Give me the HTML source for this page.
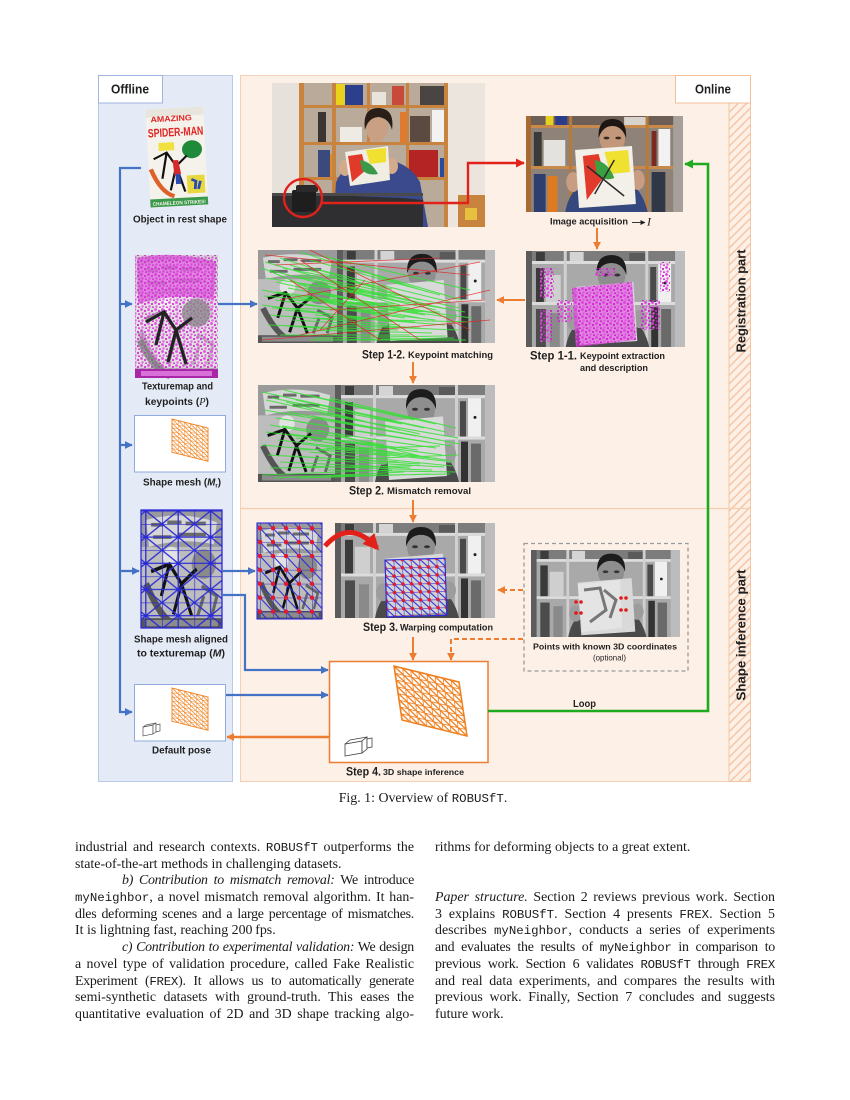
<!DOCTYPE html>
<html><head><meta charset="utf-8"><title>Overview of ROBUSfT</title>
<style>
html,body{margin:0;padding:0;background:#fff}
#pg{position:relative;width:850px;height:1100px;overflow:hidden;background:#fff}
#pg svg{position:absolute;left:0;top:0}
.col{position:absolute;width:339px;font-family:"Liberation Serif","Times New Roman",serif;font-size:13.9px;line-height:16.7px;color:#1a1a1a}
.col div{height:16.7px;text-align:justify;text-align-last:justify;word-spacing:-3px;overflow:visible}
.col div.l{text-align:left;text-align-last:left;word-spacing:0}
.col div.t{letter-spacing:-0.25px;word-spacing:-3px}
.m{font-family:"Liberation Mono",monospace;font-size:12.4px}
.ind{padding-left:47px}
.cap{position:absolute;left:0;top:790px;width:846px;text-align:center;font-family:"Liberation Serif",serif;font-size:13.9px;color:#1a1a1a;line-height:17px}
</style></head><body><div id="pg">
<svg width="850" height="1100" viewBox="0 0 850 1100" xmlns="http://www.w3.org/2000/svg" font-family="'Liberation Sans', sans-serif" font-weight="bold">
<defs>
<marker id="ab" viewBox="0 0 10 10" refX="9" refY="5" markerWidth="8" markerHeight="8" markerUnits="userSpaceOnUse" orient="auto"><path d="M0,0L10,5L0,10z" fill="#4472c4"/></marker>
<marker id="ao" viewBox="0 0 10 10" refX="9" refY="5" markerWidth="8" markerHeight="8" markerUnits="userSpaceOnUse" orient="auto"><path d="M0,0L10,5L0,10z" fill="#ed7d31"/></marker>
<marker id="ag" viewBox="0 0 10 10" refX="9" refY="5" markerWidth="9" markerHeight="9" markerUnits="userSpaceOnUse" orient="auto"><path d="M0,0L10,5L0,10z" fill="#1faa1f"/></marker>
<marker id="ar" viewBox="0 0 10 10" refX="9" refY="5" markerWidth="9" markerHeight="9" markerUnits="userSpaceOnUse" orient="auto"><path d="M0,0L10,5L0,10z" fill="#e3211b"/></marker>
<marker id="ar2" viewBox="0 0 10 10" refX="8" refY="5" markerWidth="16" markerHeight="16" markerUnits="userSpaceOnUse" orient="auto"><path d="M0,0L10,5L0,10z" fill="#e3211b"/></marker>
<marker id="ak" viewBox="0 0 10 10" refX="9" refY="5" markerWidth="5" markerHeight="5" markerUnits="userSpaceOnUse" orient="auto"><path d="M0,0L10,5L0,10z" fill="#222"/></marker>
<pattern id="hatch" width="6" height="6" patternUnits="userSpaceOnUse" patternTransform="rotate(45)"><rect width="6" height="6" fill="#fdf0e7"/><line x1="1" y1="0" x2="1" y2="6" stroke="#f3c3a0" stroke-width="1.4"/></pattern>
<pattern id="om" width="6" height="4.15" patternUnits="userSpaceOnUse"><path d="M0 0H6M0 0V4.15M0 0L6 4.15" stroke="#f08a2c" stroke-width="0.9" fill="none"/></pattern>
<pattern id="om2" width="8.1" height="6.75" patternUnits="userSpaceOnUse"><path d="M0 0H8.1M0 0V6.75M0 0L8.1 6.75" stroke="#f07f1e" stroke-width="1.6" fill="none"/></pattern>
<pattern id="bm" width="32.4" height="26.2" patternUnits="userSpaceOnUse"><path d="M0 0H32.4M0 13.1H32.4M0 0V26.2M16.2 0V26.2M0 0L16.2 13.1L32.4 0M0 26.2L16.2 13.1L32.4 26.2" stroke="#2b2bd6" stroke-width="1.3" fill="none"/></pattern>
<pattern id="bm2" width="13" height="13.9" patternUnits="userSpaceOnUse"><path d="M0 0H13M0 0V13.9M0 0L13 13.9" stroke="#2b2bd6" stroke-width="1.1" fill="none"/><circle cx="0" cy="0" r="2.2" fill="#e01a30"/><circle cx="13" cy="0" r="2.2" fill="#e01a30"/><circle cx="0" cy="13.9" r="2.2" fill="#e01a30"/><circle cx="13" cy="13.9" r="2.2" fill="#e01a30"/></pattern>
<pattern id="bm3" width="8.6" height="8.2" patternUnits="userSpaceOnUse"><path d="M0 0H8.6M0 0V8.2M0 0L8.6 8.2" stroke="#2b2be0" stroke-width="1.1" fill="none"/><circle cx="0" cy="0" r="1.8" fill="#e01a30"/><circle cx="8.6" cy="0" r="1.8" fill="#e01a30"/><circle cx="0" cy="8.2" r="1.8" fill="#e01a30"/><circle cx="8.6" cy="8.2" r="1.8" fill="#e01a30"/></pattern>
<pattern id="mgp" width="7" height="7" patternUnits="userSpaceOnUse"><circle cx="1.5" cy="1.5" r="1.4" fill="#e23ce2"/><circle cx="5" cy="3" r="1.1" fill="#d020d0"/><circle cx="2.5" cy="5.5" r="1.2" fill="#e850e8"/><circle cx="6" cy="6.2" r="0.9" fill="#c818c8"/></pattern>

<symbol id="gs" viewBox="0 0 160 96" preserveAspectRatio="none">
<rect width="160" height="96" fill="#a9a9a9"/>
<rect x="0" y="0" width="160" height="10" fill="#7c7c7c"/>
<rect x="10" y="1" width="9" height="9" fill="#3c3c3c"/>
<rect x="44" y="1" width="14" height="9" fill="#d4d4d4"/>
<rect x="104" y="2" width="18" height="8" fill="#5a5a5a"/>
<rect x="0" y="10" width="160" height="3" fill="#dcdcdc"/>
<rect x="0" y="51" width="160" height="3" fill="#dcdcdc"/>
<rect x="0" y="0" width="6" height="96" fill="#5c5c5c"/>
<rect x="38" y="0" width="3" height="96" fill="#d0d0d0"/>
<rect x="120" y="0" width="3" height="96" fill="#d0d0d0"/>
<rect x="150" y="0" width="10" height="96" fill="#bcbcbc"/>
<rect x="10" y="17" width="8" height="34" fill="#3a3a3a"/>
<rect x="20" y="24" width="15" height="27" fill="#cfcfcf"/>
<rect x="125" y="16" width="6" height="35" fill="#4a4a4a"/>
<rect x="133" y="13" width="13" height="38" fill="#f0f0f0"/>
<circle cx="140" cy="32" r="1.5" fill="#222"/>
<rect x="10" y="58" width="10" height="38" fill="#4c4c4c"/>
<rect x="24" y="62" width="10" height="34" fill="#8a8a8a"/>
<rect x="126" y="56" width="7" height="40" fill="#333"/>
<rect x="136" y="58" width="10" height="38" fill="#6a6a6a"/>
<path d="M40 96 Q46 62 84 60 Q116 62 124 96Z" fill="#4a4a4a"/>
<ellipse cx="86" cy="24" rx="14" ry="17" fill="#8e8e8e"/>
<path d="M71 24 Q70 4 86 4 Q102 4 101 24 Q97 12 86 12 Q75 12 71 24Z" fill="#1c1c1c"/>
<ellipse cx="80" cy="24" rx="3" ry="1.5" fill="#333"/>
<ellipse cx="92" cy="24" rx="3" ry="1.5" fill="#333"/>
<ellipse cx="48" cy="70" rx="7" ry="9" fill="#9c9c9c"/>
<ellipse cx="114" cy="68" rx="7" ry="9" fill="#9c9c9c"/>
<path d="M50 36 L108 31 L112 90 L54 94Z" fill="#d9d9d9"/>
</symbol>

<symbol id="gc" viewBox="0 0 80 96" preserveAspectRatio="none">
<rect width="80" height="96" fill="#bdbdbd"/>
<path d="M0 0H80V30H0Z" fill="#9a9a9a"/>
<path d="M5 8 Q40 0 75 10 L72 28 Q40 22 8 30Z" fill="#d6d6d6"/>
<path d="M10 12h12M26 10h14M44 11h20M12 22h18M36 20h28" stroke="#6a6a6a" stroke-width="3"/>
<circle cx="62" cy="44" r="12" fill="#8a8a8a"/>
<circle cx="30" cy="38" r="8" fill="#e2e2e2"/>
<path d="M10 50 L28 44 L40 60 L55 48 M40 60 L32 85 M40 60 L50 86 M28 44 L20 70" stroke="#111" stroke-width="3" fill="none"/>
<path d="M5 60 Q20 90 35 94" stroke="#555" stroke-width="6" fill="none"/>
<path d="M60 62 L75 70 L70 86 M62 70 L56 86" stroke="#666" stroke-width="3" fill="none"/>
<rect x="0" y="88" width="80" height="8" fill="#555"/>
<rect x="4" y="89.5" width="72" height="5" fill="#8c8c8c"/>
</symbol>

<symbol id="cs" viewBox="0 0 160 96" preserveAspectRatio="none">
<rect width="160" height="96" fill="#8f8379"/>
<rect x="0" y="0" width="160" height="10" fill="#6d5f55"/>
<rect x="20" y="0" width="8" height="9" fill="#e8d020"/>
<rect x="30" y="0" width="12" height="9" fill="#2a3c8a"/>
<rect x="100" y="1" width="22" height="8" fill="#d8d4cc"/>
<rect x="0" y="9" width="160" height="3" fill="#c88a4a"/>
<rect x="0" y="50" width="160" height="3" fill="#c88a4a"/>
<rect x="0" y="0" width="5" height="96" fill="#a86a30"/>
<rect x="44" y="0" width="3" height="96" fill="#b87a3a"/>
<rect x="122" y="0" width="3" height="96" fill="#b87a3a"/>
<rect x="150" y="0" width="10" height="96" fill="#a7a09a"/>
<rect x="8" y="16" width="8" height="34" fill="#3a3a3a"/>
<rect x="18" y="24" width="22" height="26" fill="#e4e2de"/>
<rect x="128" y="15" width="5" height="35" fill="#7a2a20"/>
<rect x="135" y="13" width="12" height="37" fill="#f2f2f2"/>
<rect x="8" y="58" width="12" height="38" fill="#2e3e6e"/>
<rect x="22" y="60" width="10" height="36" fill="#e07a20"/>
<rect x="128" y="56" width="14" height="40" fill="#303848"/>
<path d="M40 96 Q46 62 84 60 Q116 62 124 96Z" fill="#34487e"/>
<ellipse cx="88" cy="22" rx="13" ry="16" fill="#c2977a"/>
<path d="M74 22 Q73 3 88 3 Q103 3 102 22 Q98 10 88 10 Q78 10 74 22Z" fill="#1e1612"/>
<ellipse cx="82" cy="22" rx="3" ry="1.4" fill="#3a2a20"/>
<ellipse cx="94" cy="22" rx="3" ry="1.4" fill="#3a2a20"/>
<ellipse cx="48" cy="66" rx="7" ry="10" fill="#c99d82"/>
<ellipse cx="114" cy="64" rx="7" ry="10" fill="#c99d82"/>
<path d="M50 34 L108 30 L112 88 L54 92Z" fill="#f2f0e8"/>
<path d="M58 40 L74 38 L80 60 L62 84Z" fill="#e23a2a"/>
<path d="M80 36 L104 34 L106 56 L86 58Z" fill="#f0e030"/>
<path d="M70 44 Q84 46 90 62 Q80 66 72 58Z" fill="#3aa040"/>
<path d="M62 50 L100 80 M90 44 L70 78" stroke="#2a2a2a" stroke-width="1.5"/>
</symbol>
</defs>

<!-- panels -->
<rect x="98.5" y="75.5" width="134" height="706" fill="#e5ebf6" stroke="#b9c9e6"/>
<rect x="240.5" y="75.5" width="510" height="706" fill="#fdf0e7" stroke="#f5cfb4"/>
<rect x="729" y="103" width="21.5" height="678.5" fill="url(#hatch)" stroke="#f3c7a6"/>
<line x1="241" y1="508.5" x2="750" y2="508.5" stroke="#f5cdb0" stroke-width="1.2"/>
<rect x="98.5" y="75.5" width="64" height="27.5" fill="#fff" stroke="#9fb6e0"/>
<rect x="675.5" y="75.5" width="75" height="27.5" fill="#fff" stroke="#f2bf98"/>

<!-- color comic (rest shape) -->
<g transform="rotate(-3 177 157) translate(148 0) scale(1.11 1) translate(-148 0)">
<rect x="148" y="108" width="52" height="98" fill="#f4f2ea"/>
<rect x="148" y="108" width="52" height="8" fill="#e8e6dc"/>
<text x="152" y="121" font-size="8" fill="#e32222" font-family="'Liberation Sans', sans-serif">AMAZING</text>
<text x="149" y="136" font-size="12" fill="#e32222" textLength="50" lengthAdjust="spacingAndGlyphs">SPIDER-MAN</text>
<circle cx="188" cy="150" r="9" fill="#1f8a3a"/>
<rect x="158" y="142" width="14" height="8" fill="#f0e040"/>
<path d="M153 158 L165 152 L173 166 L183 156 M173 166 L167 190 M173 166 L180 192 M165 152 L160 178" stroke="#111" stroke-width="2" fill="none"/>
<path d="M170 160 l5 0 l2 14 l-6 2 z" fill="#d42a2a"/>
<path d="M172 174 l4 0 l1 10 l-5 0 z" fill="#2a4ab0"/>
<path d="M150 168 Q158 192 170 196" stroke="#e0602a" stroke-width="4" fill="none"/>
<rect x="182" y="176" width="16" height="18" fill="#e8d840"/>
<path d="M186 180 l4 2 l-1 8 M194 182 l-2 8" stroke="#2a4ab0" stroke-width="2.5" fill="none"/>
<rect x="148" y="198" width="52" height="8" fill="#3a9a4a"/>
<text x="150" y="204.5" font-size="5" fill="#f4f2ea" textLength="48" lengthAdjust="spacingAndGlyphs">CHAMELEON STRIKES!</text>
</g>

<!-- texturemap magenta -->
<rect x="135" y="255" width="83" height="123" fill="#ffffff"/>
<use href="#gc" x="135" y="255" width="83" height="123" opacity="0.45"/>
<rect x="135" y="255" width="83" height="123" fill="url(#mgp)" opacity="0.9"/>
<path d="M137 258 Q175 250 216 262 L214 300 Q175 292 138 304Z" fill="#d630d6" opacity="0.55"/>
<circle cx="196" cy="313" r="14" fill="#8a8a8a" opacity="0.75"/>
<path d="M146 322 L164 312 L176 330 L192 318 M176 330 L168 362 M176 330 L186 364 M164 312 L156 345" stroke="#222" stroke-width="3.2" fill="none"/>
<path d="M140 340 Q152 368 170 376" stroke="#777" stroke-width="7" fill="none" opacity="0.7"/>
<rect x="135" y="369" width="83" height="9" fill="#a826a8"/>
<rect x="141" y="371" width="71" height="5" fill="#d870d8"/>

<!-- shape mesh Mr -->
<rect x="134.5" y="415.5" width="91" height="56.5" fill="#fff" stroke="#8faadc"/>
<g transform="matrix(1,0.25,0,1,172,419)"><rect width="36" height="33.2" fill="url(#om)" stroke="#f08a2c" stroke-width="1"/></g>

<!-- shape mesh aligned -->
<use href="#gc" x="141" y="510" width="81" height="118"/>
<rect x="141" y="510" width="81" height="118" fill="url(#bm)" stroke="#2b2bd6" stroke-width="1.3"/>

<!-- default pose -->
<rect x="134.5" y="684.5" width="91" height="56.5" fill="#fff" stroke="#8faadc"/>
<g transform="matrix(1,0.25,0,1,172,688)"><rect width="36" height="33.2" fill="url(#om)" stroke="#f08a2c" stroke-width="1"/></g>
<g fill="#fff" stroke="#555" stroke-width="0.7"><path d="M143 727 l10 -2 l0 9 l-10 2 z"/><path d="M143 727 l3 -2 l10 -2 l-3 2 z"/><path d="M153 725 l3 -2 l0 9 l-3 2 z"/><path d="M156 725 l4 -1 l0 7 l-4 1z"/></g>

<!-- top photo -->
<rect x="272" y="83" width="213" height="144" fill="#e6e1db"/>
<rect x="299" y="83" width="148" height="144" fill="#b9aa9a"/>
<rect x="336" y="84" width="9" height="21" fill="#e8d21e"/>
<rect x="345" y="85" width="18" height="20" fill="#2c3f8c"/>
<rect x="372" y="92" width="14" height="13" fill="#e8e4dc"/>
<rect x="392" y="86" width="12" height="19" fill="#c84a3a"/>
<rect x="420" y="86" width="24" height="19" fill="#4a4442"/>
<rect x="318" y="112" width="8" height="30" fill="#3a3432"/>
<rect x="340" y="127" width="22" height="15" fill="#eeeae4"/>
<rect x="400" y="112" width="6" height="30" fill="#e07a30"/>
<rect x="410" y="116" width="20" height="26" fill="#5a4a42"/>
<rect x="432" y="110" width="12" height="33" fill="#f2f2f2"/>
<rect x="318" y="150" width="12" height="27" fill="#3a4a7c"/>
<rect x="330" y="154" width="6" height="23" fill="#e08a30"/>
<rect x="408" y="150" width="30" height="27" fill="#b42424"/>
<rect x="440" y="158" width="5" height="19" fill="#2a4aa0"/>
<g fill="#c8843f"><rect x="299" y="83" width="5" height="144"/><rect x="332" y="83" width="4" height="144"/><rect x="367" y="83" width="3" height="60"/><rect x="406" y="83" width="3" height="144"/><rect x="444" y="83" width="4" height="144"/><rect x="299" y="105" width="149" height="3"/><rect x="299" y="142" width="149" height="3"/><rect x="299" y="177" width="149" height="3"/></g>
<rect x="448" y="83" width="37" height="144" fill="#ebe5de"/>
<rect x="458" y="195" width="27" height="32" fill="#c8843f"/>
<rect x="465" y="208" width="12" height="12" fill="#e8c040"/>
<path d="M333 227 L336 182 Q346 160 377 158 Q408 160 420 182 L428 227Z" fill="#3b4a8c"/>
<ellipse cx="377" cy="128" rx="11" ry="14" fill="#caa084"/>
<path d="M365 130 Q362 108 378 108 Q395 108 392 130 Q389 118 378 117 Q368 118 365 130Z" fill="#2a1e18"/>
<ellipse cx="345" cy="168" rx="6" ry="8" fill="#d3aa8c"/>
<ellipse cx="392" cy="166" rx="6" ry="8" fill="#d3aa8c"/>
<path d="M345 152 L388 146 L390 180 L350 186Z" fill="#f0eee2"/>
<path d="M348 156 L362 154 L366 170 L352 182Z" fill="#e23a2a"/>
<path d="M366 150 L386 148 L386 162 L370 164Z" fill="#f0e030"/>
<path d="M360 160 Q372 162 378 174 Q368 176 362 170Z" fill="#3a9a4a"/>
<path d="M272 193 L404 198 L423 200 L423 227 L272 227Z" fill="#2f2f31"/>
<rect x="272" y="193" width="151" height="3" fill="#4a4a4c"/>
<rect x="292" y="190" width="24" height="22" rx="2" fill="#1e1e1e"/>
<rect x="296" y="185" width="22" height="7" rx="2" fill="#2a2a2a"/>
<circle cx="303" cy="198" r="19" fill="none" stroke="#e3211b" stroke-width="2.4"/>

<!-- image acquisition photo -->
<use href="#cs" x="526" y="116" width="157" height="96"/>

<!-- step 1-1 -->
<use href="#gs" x="526" y="251" width="159" height="96"/>
<path d="M572 288 L632 282 L636 340 L576 347Z" fill="#e040e0" opacity="0.55"/>
<path d="M572 288 L632 282 L636 340 L576 347Z" fill="url(#mgp)"/>
<rect x="540" y="268" width="14" height="30" fill="url(#mgp)"/>
<rect x="660" y="262" width="10" height="30" fill="url(#mgp)"/>
<rect x="540" y="310" width="12" height="32" fill="url(#mgp)"/>
<rect x="595" y="268" width="20" height="8" fill="url(#mgp)"/>
<rect x="556" y="300" width="16" height="22" fill="url(#mgp)"/>
<rect x="640" y="300" width="20" height="30" fill="url(#mgp)"/>

<!-- step 1-2 -->
<use href="#gc" x="258" y="250" width="79" height="93"/>
<use href="#gs" x="337" y="250" width="158" height="93"/>
<g stroke="#34e034" stroke-width="1" opacity="0.85" fill="none"><path d="M265 262L395 300M270 270L400 305M280 258L410 298M290 265L420 300M300 275L430 305M310 260L440 295M320 270L450 302M330 280L460 308M262 290L390 315M275 300L405 318M285 310L415 322M295 295L425 315M305 305L435 320M315 315L445 325M325 300L455 318M268 325L398 330M280 335L410 335M292 320L420 328M304 330L432 333M316 338L446 336M328 325L458 330M335 290L465 312M262 305L392 322M276 282L402 310M288 288L418 312M300 252L428 292M312 292L442 314M324 340L454 338M332 262L462 300M270 315L400 325M266 278L385 296M283 268L392 289M298 284L402 296M318 284L436 310M308 318L470 322M276 292L472 318M262 268L382 318M322 256L470 290M286 326L380 332M310 340L466 340M264 296L410 308M272 308L440 312M294 276L452 310M306 298L420 318M288 300L396 304"/></g>
<path d="M265 255L470 275M300 260L420 340M280 300L480 262M320 330L365 280M262 340L490 320M310 250L470 330M290 280L380 340M330 310L485 300M275 265L440 258M300 335L490 290" stroke="#e02020" stroke-width="0.8" opacity="0.8" fill="none"/>

<!-- step 2 -->
<use href="#gc" x="258" y="385" width="77" height="97"/>
<use href="#gs" x="335" y="385" width="160" height="97"/>
<path d="M262 392L392 420M272 398L402 424M284 390L414 420M296 400L424 428M308 395L436 424M320 405L446 432M330 398L456 428M264 410L394 432M276 418L404 438M288 412L416 436M300 422L428 442M312 416L440 440M324 426L452 446M334 420L460 444M266 432L396 448M278 440L406 454M290 434L418 450M302 444L430 458M314 438L442 455M326 448L454 462M268 455L398 462M280 462L410 468M292 456L420 464M304 466L432 470M316 460L444 467M328 470L456 472M262 475L392 470M274 478L404 472M300 478L430 474M322 476L450 474M270 425L385 445M286 402L400 430M300 450L440 446M318 430L420 456M262 445L390 456M330 460L458 455M266 400L420 434M282 426L436 448M296 438L446 460M310 452L452 466M320 414L458 438M270 468L412 466" stroke="#34e034" stroke-width="1.1" opacity="0.85" fill="none"/>

<!-- step 3 -->
<use href="#gc" x="257" y="523" width="65" height="96"/>
<rect x="257" y="523" width="65" height="96" fill="url(#bm2)" stroke="#2b2bd6" stroke-width="1.1"/>
<use href="#gs" x="335" y="523" width="160" height="95"/>
<g transform="matrix(1,-0.03,0.03,1,385,560)"><rect width="60" height="57" fill="#cfcfcf" opacity="0.6"/><rect width="60" height="57" fill="url(#bm3)" stroke="#2b2be0" stroke-width="1.1"/></g>
<path d="M325 546 Q350 518 377 548" stroke="#e3211b" stroke-width="5" fill="none" marker-end="url(#ar2)"/>

<!-- points with known 3D coordinates -->
<rect x="524" y="543.5" width="164" height="127.5" fill="none" stroke="#9a9a9a" stroke-width="1.3" stroke-dasharray="4,3"/>
<use href="#gs" x="531" y="550" width="149" height="87"/>
<path d="M578 584 L620 580 L622 628 L582 632Z" fill="#e4e4e4"/>
<path d="M584 590 L600 588 L606 610 L590 622 M604 590 L616 600 L610 618" stroke="#777" stroke-width="3" fill="none"/>
<g fill="#e01a1a"><circle cx="576" cy="602" r="1.8"/><circle cx="581" cy="602" r="1.8"/><circle cx="576" cy="613" r="1.8"/><circle cx="581" cy="613" r="1.8"/><circle cx="621" cy="598" r="1.8"/><circle cx="626" cy="598" r="1.8"/><circle cx="621" cy="610" r="1.8"/><circle cx="626" cy="610" r="1.8"/></g>

<!-- step 4 box -->
<rect x="329.5" y="661.5" width="158.5" height="101" fill="#fff" stroke="#ed7d31" stroke-width="1.5"/>
<g transform="matrix(1,0.246,0.148,1,394,666)"><rect width="65" height="54" fill="url(#om2)" stroke="#f07f1e" stroke-width="1.6"/></g>
<g fill="#fff" stroke="#444" stroke-width="0.8"><path d="M345 744 l17 -3 l0 12 l-17 3 z"/><path d="M345 744 l5 -4 l17 -3 l-5 4 z"/><path d="M362 741 l5 -4 l0 12 l-5 4 z"/><path d="M367 739 l5 -1 l0 9 l-5 1z"/></g>

<!-- blue connectors -->
<g stroke="#4472c4" stroke-width="2.2" fill="none">
<path d="M141 168 H120 V712 H132" marker-end="url(#ab)"/>
<path d="M120 304 H132" marker-end="url(#ab)"/>
<path d="M120 445 H132" marker-end="url(#ab)"/>
<path d="M120 571 H139" marker-end="url(#ab)"/>
<path d="M218 304 H257" marker-end="url(#ab)"/>
<path d="M222 571 H255" marker-end="url(#ab)"/>
<path d="M222 595 H245 V670 H328" marker-end="url(#ab)"/>
<path d="M226 695 H328" marker-end="url(#ab)"/>
</g>
<!-- orange connectors -->
<g stroke="#ed7d31" stroke-width="2" fill="none">
<path d="M597 228 V249" marker-end="url(#ao)"/>
<path d="M525 300 H497" marker-end="url(#ao)"/>
<path d="M413 362 V383" marker-end="url(#ao)"/>
<path d="M413 500 V522" marker-end="url(#ao)"/>
<path d="M413 637 V660" marker-end="url(#ao)"/>
<path d="M329 737 H227" stroke-width="2.4" marker-end="url(#ao)"/>
<path d="M523 590 H498" stroke-dasharray="5,3" marker-end="url(#ao)"/>
<path d="M523 639 H451 V660" stroke-dasharray="5,3" marker-end="url(#ao)"/>
</g>
<!-- green loop -->
<path d="M488 711 H708 V164 H685" stroke="#1faa1f" stroke-width="2.6" fill="none" marker-end="url(#ag)"/>
<!-- red connector -->
<path d="M322 203 H468 V163 H524" stroke="#e3211b" stroke-width="2.4" fill="none" marker-end="url(#ar)"/>

<!-- labels -->
<g fill="#1f1f1f" text-anchor="middle">
<text x="130" y="93.5" font-size="12.5" textLength="38" lengthAdjust="spacingAndGlyphs">Offline</text>
<text x="713" y="93.5" font-size="12.5" textLength="36" lengthAdjust="spacingAndGlyphs">Online</text>
<text x="180" y="222.5" font-size="10" textLength="94" lengthAdjust="spacingAndGlyphs">Object in rest shape</text>
<text x="177.5" y="389.5" font-size="10" textLength="71" lengthAdjust="spacingAndGlyphs">Texturemap and</text>
<text x="177" y="405" font-size="10" textLength="64" lengthAdjust="spacingAndGlyphs">keypoints (<tspan font-family="'Liberation Serif', serif" font-style="italic" font-weight="normal">P</tspan>)</text>
<text x="182" y="485.5" font-size="10" textLength="78" lengthAdjust="spacingAndGlyphs">Shape mesh (<tspan font-style="italic">M</tspan><tspan font-size="6" dy="2">r</tspan><tspan dy="-2">)</tspan></text>
<text x="181" y="642.5" font-size="10" textLength="94" lengthAdjust="spacingAndGlyphs">Shape mesh aligned</text>
<text x="181" y="656.5" font-size="10" textLength="88" lengthAdjust="spacingAndGlyphs">to texturemap (<tspan font-style="italic">M</tspan>)</text>
<text x="181.5" y="753.5" font-size="10" textLength="59" lengthAdjust="spacingAndGlyphs">Default pose</text>
</g>
<g fill="#1f1f1f">
<text x="550" y="224.5" font-size="9" textLength="78" lengthAdjust="spacingAndGlyphs">Image acquisition</text>
<path d="M632 222.5 H645" stroke="#222" stroke-width="0.9" marker-end="url(#ak)"/>
<text x="647" y="225.5" font-size="12" font-family="'Liberation Serif', serif" font-style="italic" font-weight="normal">I</text>
<text x="530" y="359.5" font-size="11.5" textLength="47" lengthAdjust="spacingAndGlyphs">Step 1-1.</text>
<text x="580" y="359" font-size="9" textLength="85" lengthAdjust="spacingAndGlyphs">Keypoint extraction</text>
<text x="580" y="371" font-size="9" textLength="68" lengthAdjust="spacingAndGlyphs">and description</text>
<text x="362" y="358.5" font-size="11.5" textLength="43" lengthAdjust="spacingAndGlyphs">Step 1-2.</text>
<text x="408" y="358" font-size="9" textLength="85" lengthAdjust="spacingAndGlyphs">Keypoint matching</text>
<text x="349" y="494.5" font-size="11.5" textLength="35" lengthAdjust="spacingAndGlyphs">Step 2.</text>
<text x="387" y="494" font-size="9" textLength="84" lengthAdjust="spacingAndGlyphs">Mismatch removal</text>
<text x="363" y="631" font-size="11.5" textLength="35" lengthAdjust="spacingAndGlyphs">Step 3.</text>
<text x="400" y="630.5" font-size="9" textLength="93" lengthAdjust="spacingAndGlyphs">Warping computation</text>
<text x="346" y="775.5" font-size="11.5" textLength="35" lengthAdjust="spacingAndGlyphs">Step 4.</text>
<text x="383" y="775" font-size="8.5" textLength="81" lengthAdjust="spacingAndGlyphs">3D shape inference</text>
<text x="533" y="649.5" font-size="8.5" textLength="144" lengthAdjust="spacingAndGlyphs">Points with known 3D coordinates</text>
<text x="593" y="660.5" font-size="8.5" font-weight="normal" textLength="33" lengthAdjust="spacingAndGlyphs">(optional)</text>
<text x="573" y="707" font-size="10" textLength="23" lengthAdjust="spacingAndGlyphs">Loop</text>
<text transform="translate(745.5 301) rotate(-90)" text-anchor="middle" font-size="12.5" textLength="103" lengthAdjust="spacingAndGlyphs">Registration part</text>
<text transform="translate(745.5 635) rotate(-90)" text-anchor="middle" font-size="12.5" textLength="131" lengthAdjust="spacingAndGlyphs">Shape inference part</text>
</g>
</svg>

<div class="cap">Fig. 1: Overview of <span class="m">ROBUSfT</span>.</div>

<div class="col" style="left:75px;top:840px">
<div>industrial and research contexts. <span class="m">ROBUSfT</span> outperforms the</div>
<div class="l">state-of-the-art methods in challenging datasets.</div>
<div class="ind t"><i>b) Contribution to mismatch removal:</i> We introduce</div>
<div><span class="m">myNeighbor</span>, a novel mismatch removal algorithm. It han-</div>
<div class="t">dles deforming scenes and a large percentage of mismatches.</div>
<div class="l">It is lightning fast, reaching 200&#8201;fps.</div>
<div class="ind t"><i>c) Contribution to experimental validation:</i> We design</div>
<div>a novel type of validation procedure, called Fake Realistic</div>
<div class="t">Experiment (<span class="m">FREX</span>). It allows us to automatically generate</div>
<div>semi-synthetic datasets with ground-truth. This eases the</div>
<div>quantitative evaluation of 2D and 3D shape tracking algo-</div>
</div>

<div class="col" style="left:435px;top:840px;width:340px">
<div class="l">rithms for deforming objects to a great extent.</div>
<div class="l"></div>
<div class="l"></div>
<div><i>Paper structure.</i> Section 2 reviews previous work. Section</div>
<div>3 explains <span class="m">ROBUSfT</span>. Section 4 presents <span class="m">FREX</span>. Section 5</div>
<div>describes <span class="m">myNeighbor</span>, conducts a series of experiments</div>
<div class="t">and evaluates the results of <span class="m">myNeighbor</span> in comparison to</div>
<div class="t">previous work. Section 6 validates <span class="m">ROBUSfT</span> through <span class="m">FREX</span></div>
<div>and real data experiments, and compares the results with</div>
<div>previous work. Finally, Section 7 concludes and suggests</div>
<div class="l">future work.</div>
</div>
</div></body></html>
